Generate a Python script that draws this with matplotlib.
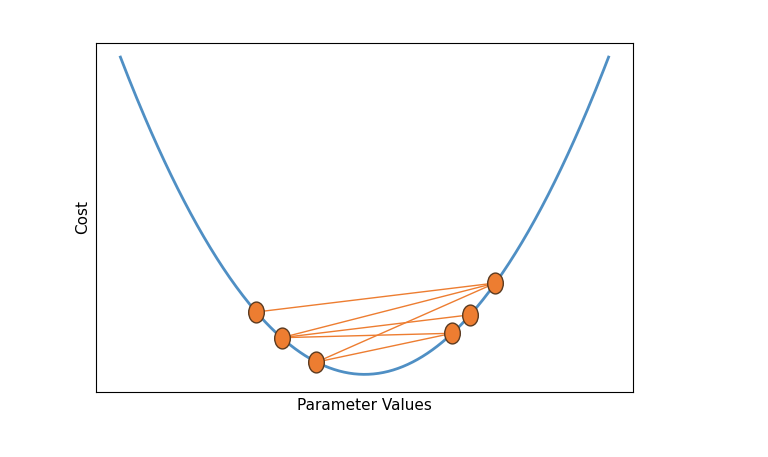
import numpy as np
import matplotlib
matplotlib.use("Agg")
import matplotlib.pyplot as plt
from matplotlib.path import Path
from matplotlib.transforms import Affine2D

curve_x = np.linspace(-3, 3, 300)
curve_y = curve_x ** 2

point_x = [-1.33, -1.02, -0.59, 1.08, 1.30, 1.61]
point_y = [v ** 2 for v in point_x]
# segments between point indices
seg_from = [0, 5, 1, 1, 3, 2]
seg_to = [5, 1, 4, 3, 2, 5]

fig = plt.figure(figsize=(7.68, 4.57), dpi=100)
ax = fig.add_axes([96/768, 1-392/457, (633-96)/768, (392-43)/457])
ax.plot(curve_x, curve_y, color="#4f8fc4", lw=2)
for a, b in zip(seg_from, seg_to):
    ax.plot([point_x[a], point_x[b]], [point_y[a], point_y[b]], color="#ed7d31", lw=1)
ell = Path.unit_circle().transformed(Affine2D().scale(0.75, 1.0))
ax.plot(point_x, point_y, linestyle="none", marker=ell, markersize=15,
        markerfacecolor="#ed7d31", markeredgecolor="#5a3a20", markeredgewidth=1)
ax.set_xticks([])
ax.set_yticks([])
ax.set_xlabel("Parameter Values", fontsize=11)
ax.set_ylabel("Cost", fontsize=11)
ax.set_xlim(-3.3, 3.3)
ax.set_ylim(-0.5, 9.4)
fig.savefig("out.png", dpi=100)
